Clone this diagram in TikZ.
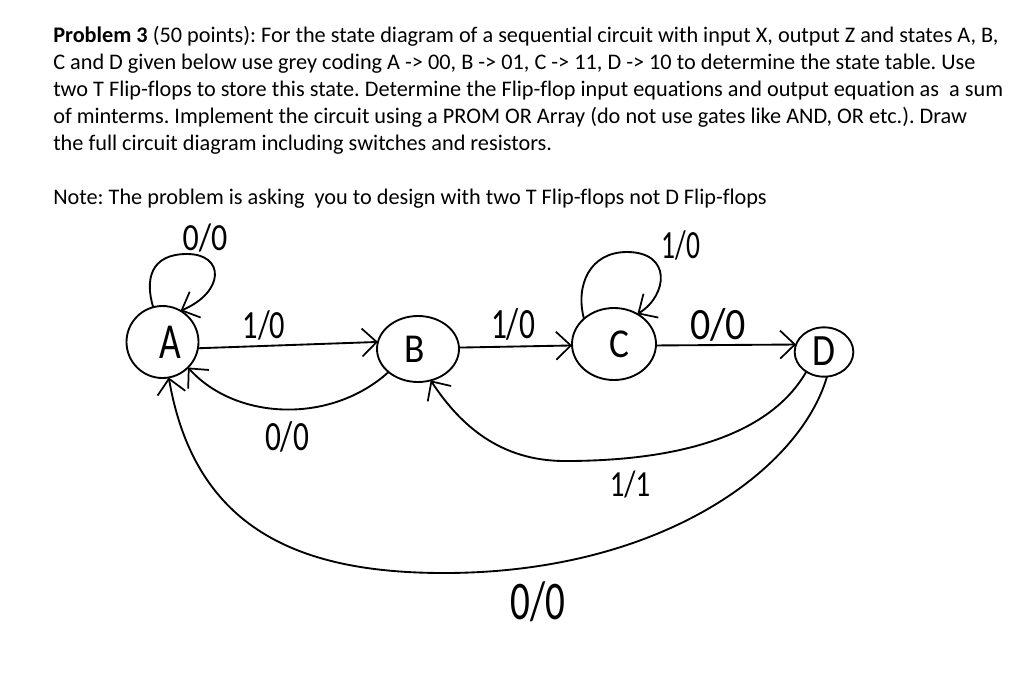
\documentclass[tikz,border=0pt]{standalone}
\usepackage{fontspec}
\setmainfont[Ligatures=CommonOff]{Carlito}
\usetikzlibrary{arrows.meta,shapes.geometric}
\newcommand{\hw}[3]{\scalebox{#1}[#2]{#3}}
\tikzset{
  px/.style={x=0.75pt,y=-0.75pt},
  state/.style={draw,ellipse,inner sep=0pt,outer sep=0pt,line width=1.4pt,font=\fontsize{28}{28}\selectfont},
  conn/.style={line width=1.4pt,-{Straight Barb[length=11pt,width=21pt,line width=1.3pt]}},
  hand/.style={font=\fontsize{24}{24}\selectfont,inner sep=0pt},
  para/.style={anchor=base west,inner sep=0pt,font=\fontsize{16.7}{16.7}\selectfont}
}
\begin{document}
\frenchspacing
\begin{tikzpicture}[px]
\useasboundingbox[fill=white] (0,0) rectangle (1024,675);
\node[para] (l1) at (53,42) {\textbf{Problem 3} (50 points): For the state diagram of a sequential circuit with input X, output Z and states A, B,};
\node[para] (l2) at (53,69) {C and D given below use grey coding A -> 00, B -> 01, C -> 11, D -> 10 to determine the state table. Use};
\node[para] (l3) at (53,96) {two T Flip-flops to store this state. Determine the Flip-flop input equations and output equation as~ a sum};
\node[para] (l4) at (53,123) {of minterms. Implement the circuit using a PROM OR Array (do not use gates like AND, OR etc.). Draw};
\node[para] (l5) at (53,150) {the full circuit diagram including switches and resistors.};
\node[para] (l6) at (53,204) {Note: The problem is asking~ you to design with two T Flip-flops not D Flip-flops};
\node[state,minimum width=54pt,minimum height=54pt] (A) at (162.5,342) {\hspace*{12pt}\hw{1}{1.35}{A}};
\node[state,minimum width=61.5pt,minimum height=49.5pt] (B) at (418,349) {\raisebox{-4pt}{\hw{1}{1.1}{B}}\hspace*{5pt}};
\node[state,minimum width=63pt,minimum height=54pt] (C) at (614,344) {\hspace*{8pt}\raisebox{-3pt}{\hw{1}{1.1}{C}}};
\node[state,minimum width=44pt,minimum height=37pt] (D) at (824,352) {\raisebox{2pt}{\hw{1}{1.2}{D}}};
\draw[conn] (A.-10) -- (B.170);
\draw[conn] (B.-142) .. controls (330,425) and (235,420) .. (A.-45);
\draw[conn] (A.105) .. controls (145,280) and (150,254) .. (187,254) .. controls (225,254) and (225,292) .. (A.60);
\draw[conn] (B.2) -- (C.182);
\draw[conn] (C.-2) -- (D.165);
\draw[conn] (C.140) .. controls (575,285) and (590,252) .. (627,252) .. controls (672,252) and (668,295) .. (C.52);
\draw[conn] (D.-132) .. controls (770,435) and (680,461) .. (565,461) .. controls (500,461) and (460,425) .. (B.-68);
\draw[conn] (D.-83) .. controls (800,470) and (660,573) .. (444,573) .. controls (300,573) and (195,530) .. (A.-80);
\node[hand] (t1) at (205,238) {\hw{1}{1.2}{0/0}};
\node[hand] (t2) at (264,325) {\hw{.95}{1.25}{1/0}};
\node[hand] (t3) at (287,437) {\hw{.98}{1.3}{0/0}};
\node[hand] (t4) at (513,324) {\hw{.98}{1.35}{1/0}};
\node[hand] (t5) at (681,245) {\hw{.86}{1.25}{1/0}};
\node[hand] (t6) at (718,325) {\hw{1.25}{1.4}{0/0}};
\node[hand] (t7) at (630,484) {\hw{.9}{1.15}{1/1}};
\node[hand] (t8) at (538,602) {\hw{1.22}{1.7}{0/0}};
\end{tikzpicture}
\end{document}
